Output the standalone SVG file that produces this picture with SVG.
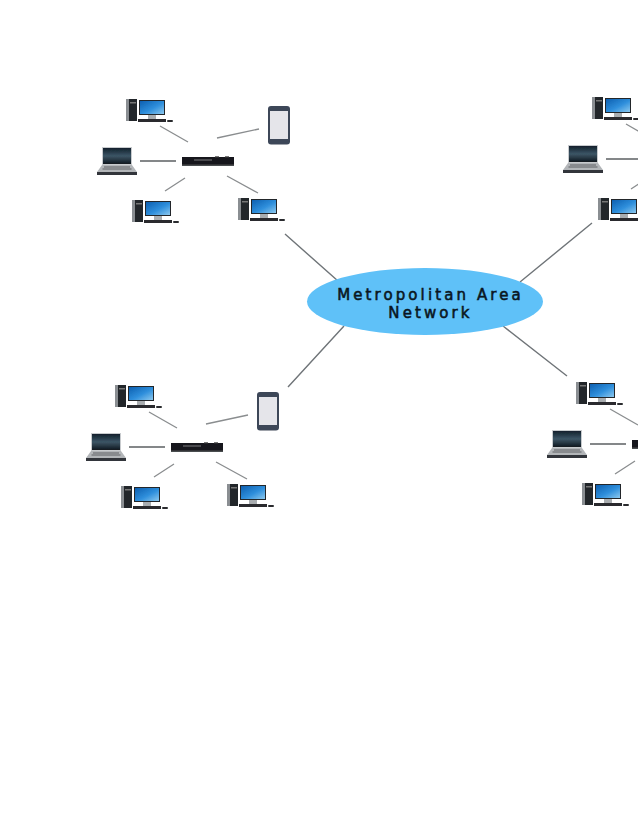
<svg xmlns="http://www.w3.org/2000/svg" width="638" height="826" viewBox="0 0 638 826">
<style>
.main{stroke:#6f7478;stroke-width:1.4;fill:none}
.link{stroke:#8a8d8f;stroke-width:1.3;fill:none}
.link.dark{stroke:#5c5f62}
.title{font-family:"DejaVu Sans","Liberation Sans",sans-serif;font-size:15px;letter-spacing:3.1px;fill:#0a1622;stroke:#0a1622;stroke-width:0.55;text-anchor:middle}
</style>
<defs>
<filter id="soft" x="-10%" y="-10%" width="120%" height="120%"><feGaussianBlur stdDeviation="0.6"/></filter>
<filter id="line" x="-5%" y="-5%" width="110%" height="110%"><feGaussianBlur stdDeviation="0.3"/></filter>
<linearGradient id="scr" x1="0" y1="0" x2="1" y2="1"><stop offset="0" stop-color="#0d5fb0"/><stop offset="0.55" stop-color="#2f8fdc"/><stop offset="1" stop-color="#8cc8ee"/></linearGradient>
<linearGradient id="lap" x1="0" y1="0" x2="0" y2="1"><stop offset="0" stop-color="#12202c"/><stop offset="0.5" stop-color="#3c5566"/><stop offset="1" stop-color="#10181f"/></linearGradient>
<g id="desktop" filter="url(#soft)">
<rect x="0" y="0" width="11" height="22" fill="#23262a"/>
<rect x="0" y="0" width="3" height="22" fill="#8a8e92"/>
<rect x="4" y="3" width="6" height="1.500" fill="#777"/>
<rect x="13" y="1" width="26" height="15" fill="#20262c"/>
<rect x="14" y="2" width="24" height="13" fill="url(#scr)"/>
<rect x="22" y="16" width="8" height="4" fill="#a9adb0"/>
<rect x="12" y="20" width="28" height="3" fill="#2a2c2f"/>
<rect x="41" y="21" width="6" height="2" rx="1" fill="#2a2c2f"/>
</g>
<g id="laptop" filter="url(#soft)">
<rect x="5" y="0" width="30" height="18" fill="#c8cbce"/>
<rect x="6" y="1" width="28" height="16" fill="url(#lap)"/>
<path d="M5 18H35L40 25H0Z" fill="#b3b6b9"/>
<path d="M7 20H33M5.500 22H34.500" stroke="#55585b" stroke-width="0.9"/>
<rect x="0" y="25" width="40" height="3" fill="#33363a"/>
</g>
<g id="switch" filter="url(#soft)">
<rect x="0" y="1" width="52" height="8.500" fill="#17191b"/>
<rect x="0" y="8.500" width="52" height="1.500" fill="#4a4d50"/>
<rect x="33" y="0" width="4" height="1.200" fill="#777"/>
<rect x="43" y="0" width="4" height="1.200" fill="#777"/>
<path d="M12 4H30" stroke="#7a7d80" stroke-width="1"/>
</g>
<g id="phone" filter="url(#soft)">
<rect x="0" y="0" width="22" height="38.500" rx="3" fill="#3c4759"/>
<rect x="2" y="5" width="18" height="28" fill="#e5e5ea"/>
</g>
</defs>
<g id="connectors" filter="url(#line)">
<path class="main" d="M285 234L338 281M592 223L520 282M344 326L288 387M503 326L567 376"/>
<path class="link" d="M160 126L188 142M217 138L259 129M165 191L185 178M227 176L258 193"/>
<path class="link dark" d="M140 161L176 161"/>
<path class="link" d="M149 412L177 428M206 424L248 415M154 477L174 464M216 462L247 479"/>
<path class="link dark" d="M129 447L165 447"/>
<path class="link" d="M626 124L654 140M631 189L651 176"/>
<path class="link dark" d="M606 159L642 159"/>
<path class="link" d="M610 409L638 425M615 474L635 461"/>
<path class="link dark" d="M590 444L626 444"/>
</g>
<g id="node-a-desktop1"><use href="#desktop" x="126" y="99"/></g>
<g id="node-a-desktop2"><use href="#desktop" x="132" y="200"/></g>
<g id="node-a-desktop3"><use href="#desktop" x="238" y="198"/></g>
<g id="node-a-laptop"><use href="#laptop" x="97" y="147"/></g>
<g id="node-a-switch"><use href="#switch" x="182" y="156"/></g>
<g id="node-a-phone"><use href="#phone" x="268" y="106"/></g>
<g id="node-b-desktop1"><use href="#desktop" x="115" y="385"/></g>
<g id="node-b-desktop2"><use href="#desktop" x="121" y="486"/></g>
<g id="node-b-desktop3"><use href="#desktop" x="227" y="484"/></g>
<g id="node-b-laptop"><use href="#laptop" x="86" y="433"/></g>
<g id="node-b-switch"><use href="#switch" x="171" y="442"/></g>
<g id="node-b-phone"><use href="#phone" x="257" y="392"/></g>
<g id="node-c-desktop1"><use href="#desktop" x="592" y="97"/></g>
<g id="node-c-desktop2"><use href="#desktop" x="598" y="198"/></g>
<g id="node-c-laptop"><use href="#laptop" x="563" y="145"/></g>
<g id="node-d-desktop1"><use href="#desktop" x="576" y="382"/></g>
<g id="node-d-desktop2"><use href="#desktop" x="582" y="483"/></g>
<g id="node-d-laptop"><use href="#laptop" x="547" y="430"/></g>
<g id="node-d-switch"><use href="#switch" x="632" y="439"/></g>
<g id="node-center">
<ellipse cx="425" cy="301.500" rx="118" ry="33.500" fill="#5fc1f8"/>
<text class="title" x="430.500" y="299.500">Metropolitan Area</text>
<text class="title" x="430.500" y="318">Network</text>
</g>
</svg>
